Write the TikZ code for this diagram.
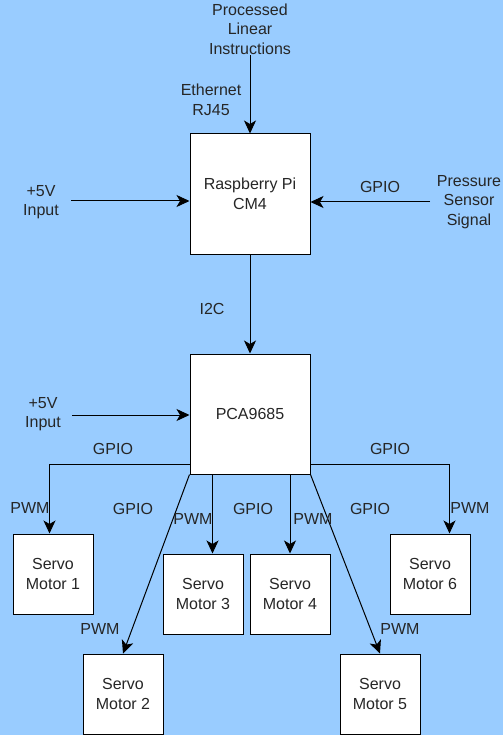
\documentclass[tikz,border=0pt]{standalone}
\usepackage{fontspec}
\setmainfont{Liberation Sans}
\usetikzlibrary{arrows.meta}
\definecolor{bgblue}{HTML}{99CCFF}
\definecolor{txt}{HTML}{262626}
\tikzset{
  blk/.style={draw=black, fill=white, line width=1pt, minimum width=120pt, minimum height=120pt, inner sep=0pt, text=txt, align=center, font=\fontsize{16}{19.5}\selectfont},
  servo/.style={draw=black, fill=white, line width=1pt, minimum width=80pt, minimum height=80pt, inner sep=0pt, text=txt, align=center, font=\fontsize{16}{19.5}\selectfont},
  lbl/.style={text=txt, align=center, inner sep=0pt, font=\fontsize{16}{19.5}\selectfont},
  conn/.style={draw=black, line width=1pt, -{Stealth[length=13pt,width=12pt,inset=3.5pt]}},
}
\begin{document}
\begin{tikzpicture}[x=1pt,y=-1pt]
\fill[bgblue] (0,0) rectangle (503,735);
\useasboundingbox (0,0) rectangle (503,735);
% main blocks
\node[blk] (rpi) at (250,194) {Raspberry Pi\\CM4};
\node[blk] (pca) at (250,414) {PCA9685};
% servos
\node[servo] (s1) at (53,574) {Servo\\Motor 1};
\node[servo] (s2) at (123,694) {Servo\\Motor 2};
\node[servo] (s3) at (203,594) {Servo\\Motor 3};
\node[servo] (s4) at (290,594) {Servo\\Motor 4};
\node[servo] (s5) at (380,694) {Servo\\Motor 5};
\node[servo] (s6) at (430,574) {Servo\\Motor 6};
% input texts
\node[lbl] (pli) at (250,29) {Processed\\Linear\\Instructions};
\node[lbl] (v1) at (41,202) {+5V\\Input};
\node[lbl] (pss) at (469,202) {Pressure\\Sensor\\Signal};
\node[lbl] (v2) at (43,414) {+5V\\Input};
% coordinates for free ends
\coordinate (pliend) at (250,55);
\coordinate (v1end) at (71,201);
\coordinate (pssend) at (430,202);
\coordinate (v2end) at (72,415);
% connectors
\draw[conn] (pliend) -- (rpi.north);
\draw[conn] (v1end) -- (v1end -| rpi.west);
\draw[conn] (pssend) -- (pssend -| rpi.east);
\draw[conn] (rpi.south) -- (pca.north);
\draw[conn] (v2end) -- (v2end -| pca.west);
\coordinate (pl) at (190,464.5);
\coordinate (pr) at (310,464.5);
\draw[conn] (pl) -| ([xshift=37pt]s1.north west);
\draw[conn] (pr) -| ([xshift=60pt]s6.north west);
\draw[conn] (pca.south west) -- (s2.north);
\draw[conn] (pca.south east) -- (s5.north);
\draw[conn] ([xshift=23pt]pca.south west) -- ([xshift=50pt]s3.north west);
\draw[conn] (s4.north |- pca.south) -- (s4.north);
% labels
\node[lbl] (eth) at (211,100) {Ethernet\\RJ45};
\node[lbl] (g0) at (380,187) {GPIO};
\node[lbl] (i2c) at (212,309) {I2C};
\node[lbl] (g1) at (113,449) {GPIO};
\node[lbl] (g6) at (390,449) {GPIO};
\node[lbl] (p1) at (30,508) {PWM};
\node[lbl] (p6) at (470,508) {PWM};
\node[lbl] (g2) at (133,509) {GPIO};
\node[lbl] (p3) at (193,519) {PWM};
\node[lbl] (g3) at (253,509) {GPIO};
\node[lbl] (p4) at (313,519) {PWM};
\node[lbl] (g5) at (370,509) {GPIO};
\node[lbl] (p2) at (100,629) {PWM};
\node[lbl] (p5) at (400,629) {PWM};
\end{tikzpicture}
\end{document}
